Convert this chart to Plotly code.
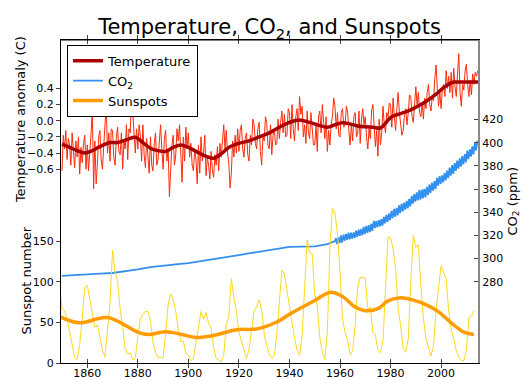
import plotly.graph_objects as go

# ---------------- data ----------------
# Temperature anomaly (C), raw series, two readings per year starting 1850
TEMP_START = 1850
TEMP_RAW = [
    -0.62, -0.18, -0.35, -0.12, -0.48, -0.22, -0.30, -0.55, -0.15, -0.42,
    -0.58, -0.25, -0.45, -0.20, -0.66, -0.33, -0.52, -0.28, -0.18, -0.60,
    -0.30, -0.62, -0.42, -0.16, 0.14, -0.84, -0.25, -0.78, -0.55, -0.20,
    -0.12, -0.48, -0.60, -0.22, -0.05, 0.18, -0.40, -0.15, -0.50, -0.10,
    -0.12, -0.45, -0.55, -0.20, -0.08, -0.38, -0.42, -0.15, -0.60, -0.25,
    -0.35, -0.05, -0.48, -0.10, -0.15, 0.35, 0.05, -0.25, -0.40, -0.10,
    -0.35, -0.05, -0.20, -0.50, -0.05, -0.42, -0.58, -0.22, -0.45, -0.65,
    -0.20, -0.55, -0.62, -0.28, -0.15, -0.55, -0.48, -0.25, -0.05, -0.35,
    -0.60, -0.22, -0.12, -0.50, -0.35, -0.94, -0.62, -0.30, -0.18, -0.55,
    -0.42, -0.10, -0.25, -0.05, -0.40, -0.76, -0.20, -0.50, -0.08, -0.35,
    -0.15, -0.45, -0.28, -0.55, -0.62, -0.35, -0.48, -0.78, -0.30, -0.65,
    -0.20, -0.50, -0.40, -0.18, -0.68, -0.45, -0.55, -0.72, -0.38, -0.62,
    -0.70, -0.42, -0.55, -0.32, -0.62, -0.28, -0.45, -0.20, -0.05, -0.35,
    -0.12, -0.40, -0.52, -0.83, -0.65, -0.25, -0.45, -0.18, -0.40, -0.10,
    -0.38, -0.12, -0.05, -0.35, -0.45, -0.22, -0.15, -0.42, -0.50, -0.18,
    -0.30, 0.02, -0.05, -0.28, -0.35, -0.10, -0.02, -0.38, -0.55, -0.20,
    -0.25, 0.05, -0.02, -0.30, -0.35, -0.05, -0.42, -0.18, -0.10, -0.30,
    -0.28, 0.02, -0.22, -0.02, 0.12, -0.15, 0.08, -0.20, -0.18, 0.15,
    0.10, -0.22, 0.20, -0.10, -0.25, 0.05, 0.15, -0.12, 0.30, 0.08,
    0.18, -0.20, -0.05, -0.28, 0.12, -0.15, -0.22, 0.10, -0.10, -0.30,
    -0.30, -0.05, -0.38, 0.05, 0.12, -0.15, 0.20, 0.02, -0.22, 0.05,
    -0.38, -0.12, -0.30, -0.05, 0.05, 0.28, 0.18, -0.10, 0.10, -0.18,
    -0.20, 0.10, 0.15, -0.08, -0.05, 0.18, 0.12, -0.12, -0.30, -0.05,
    -0.25, 0.05, 0.10, -0.20, -0.15, 0.12, -0.28, 0.02, 0.15, -0.05,
    0.05, -0.20, -0.35, -0.10, -0.22, 0.12, 0.20, -0.05, -0.32, -0.12,
    -0.44, 0.02, -0.30, -0.15, 0.18, -0.05, -0.15, 0.10, 0.05, 0.22,
    0.20, -0.08, 0.28, 0.05, -0.12, 0.15, 0.35, 0.10, -0.05, -0.18,
    -0.12, 0.08, 0.15, -0.05, 0.10, 0.32, 0.30, 0.05, -0.02, 0.25,
    0.42, 0.20, 0.35, 0.10, 0.05, 0.22, 0.02, 0.28, 0.15, 0.35,
    0.45, 0.20, 0.12, 0.30, 0.25, 0.52, 0.69, 0.40, 0.18, 0.35,
    0.15, 0.40, 0.45, 0.30, 0.62, 0.40, 0.55, 0.35, 0.60, 0.28,
    0.65, 0.42, 0.30, 0.58, 0.83, 0.35, 0.18, 0.45, 0.38, 0.62,
    0.70, 0.45, 0.30, 0.50, 0.32, 0.58, 0.45, 0.60, 0.55, 0.62,
]

# Smoothed temperature
TEMP_SMOOTH_YEARS = [1850, 1853, 1856, 1859, 1862, 1865, 1869, 1872, 1876, 1879,
                     1882, 1885, 1888, 1891, 1894, 1897, 1900, 1904, 1907, 1910,
                     1913, 1916, 1920, 1924, 1928, 1932, 1936, 1940, 1944, 1948,
                     1952, 1955, 1958, 1961, 1964, 1967, 1970, 1973, 1976, 1978,
                     1980, 1983, 1986, 1989, 1992, 1995, 1998, 2001, 2004, 2006,
                     2010, 2015]
TEMP_SMOOTH = [-0.29, -0.33, -0.37, -0.40, -0.37, -0.32, -0.27, -0.27, -0.23, -0.205,
               -0.27, -0.34, -0.37, -0.38, -0.33, -0.30, -0.33, -0.395, -0.44, -0.465,
               -0.41, -0.33, -0.28, -0.25, -0.20, -0.15, -0.08, -0.02, 0.01, -0.02,
               -0.06, -0.08, -0.05, -0.025, -0.04, -0.065, -0.075, -0.08, -0.09, -0.03,
               0.04, 0.08, 0.11, 0.15, 0.20, 0.26, 0.33, 0.41, 0.47, 0.48,
               0.48, 0.48]

# CO2 (ppm): ice-core era, then Mauna Loa seasonal peaks (May) and troughs (Oct)
CO2_HIST_YEARS = [1850, 1855, 1860, 1865, 1870, 1875, 1880, 1885, 1890, 1895,
                  1900, 1905, 1910, 1915, 1920, 1925, 1930, 1935, 1940, 1945,
                  1950, 1955, 1958]
CO2_HIST = [285.0, 285.8, 286.5, 287.0, 287.5, 288.8, 290.6, 292.5, 294.0, 295.0,
            296.0, 297.6, 299.4, 301.2, 303.0, 304.8, 306.6, 308.8, 310.0, 310.2,
            310.5, 312.5, 315.0]
CO2_MLO_START = 1958
CO2_MLO = [
    317.5, 312.4, 318.3, 313.3, 320.0, 313.8, 320.6, 315.4, 321.3, 316.1,
    322.3, 316.5, 322.3, 317.2, 322.6, 317.7, 324.1, 318.8, 324.9, 319.6,
    325.6, 320.0, 327.4, 321.1, 328.1, 322.2, 328.8, 322.8, 330.0, 323.9,
    332.5, 326.4, 332.5, 326.9, 333.2, 327.8, 334.1, 328.5, 335.9, 330.4,
    337.6, 331.7, 338.8, 333.1, 341.1, 334.9, 342.8, 336.1, 343.7, 337.2,
    345.9, 339.2, 347.3, 340.8, 348.3, 342.3, 349.8, 343.4, 351.6, 345.0,
    354.0, 347.5, 355.7, 349.1, 357.1, 350.3, 359.0, 350.9, 359.6, 352.0,
    360.2, 352.9, 361.8, 354.7, 363.8, 356.6, 365.4, 358.6, 366.8, 359.9,
    369.6, 362.9, 371.2, 364.5, 371.8, 365.7, 373.8, 367.6, 375.9, 369.4,
    378.6, 371.6, 380.6, 373.1, 382.4, 375.7, 384.6, 377.7, 386.4, 379.3,
    388.5, 381.4, 390.2, 383.0, 393.2, 385.9, 394.2, 387.9, 396.8, 389.9,
    399.8, 393.3, 401.8,
]

# Yearly mean sunspot number, 1849-2013
SUN_START = 1849
SUNSPOTS = [
    95.8,
    66.6, 64.5, 54.1, 39.0, 20.6, 6.7, 4.3, 22.7, 54.8, 93.8,
    95.8, 77.2, 59.1, 44.0, 47.0, 30.5, 16.3, 7.3, 37.6, 74.0,
    139.0, 111.2, 101.6, 66.2, 44.7, 17.0, 11.3, 12.4, 3.4, 6.0,
    32.3, 54.3, 59.7, 63.7, 63.5, 52.2, 25.4, 13.1, 6.8, 6.3,
    7.1, 35.6, 73.0, 85.1, 78.0, 64.0, 41.8, 26.2, 26.7, 12.1,
    9.5, 2.7, 5.0, 24.4, 42.0, 63.5, 53.8, 62.0, 48.5, 43.9,
    18.6, 5.7, 3.6, 1.4, 9.6, 47.4, 57.1, 103.9, 80.6, 63.6,
    37.6, 26.1, 14.2, 5.8, 16.7, 44.3, 63.9, 69.0, 77.8, 64.9,
    35.7, 21.2, 11.1, 5.7, 8.7, 36.1, 79.7, 114.4, 109.6, 88.8,
    67.8, 47.5, 30.6, 16.3, 9.6, 33.2, 92.6, 151.6, 136.3, 134.7,
    83.9, 69.4, 31.5, 13.9, 4.4, 38.0, 141.7, 190.2, 184.8, 159.0,
    112.3, 53.9, 37.6, 27.9, 10.2, 15.1, 47.0, 93.8, 105.9, 105.5,
    104.5, 66.6, 68.9, 38.0, 34.5, 15.5, 12.6, 27.5, 92.5, 155.4,
    154.6, 140.4, 115.9, 66.6, 45.9, 17.9, 13.4, 29.4, 100.2, 157.6,
    142.6, 145.7, 94.3, 54.6, 29.9, 17.5, 8.6, 21.5, 64.3, 93.3,
    119.6, 111.0, 104.0, 63.7, 40.4, 29.8, 15.2, 7.5, 2.9, 3.1,
    16.5, 55.7, 57.6, 64.7,
]
SUN_SMOOTH_YEARS = [1849.5, 1857, 1868, 1880, 1884, 1891, 1897, 1903, 1910, 1919,
                    1927, 1935, 1940, 1950, 1956, 1961, 1966, 1970, 1975, 1979,
                    1984, 1989, 1994, 1999, 2004, 2009, 2013]
SUN_SMOOTH = [56.5, 49.5, 56.0, 38.0, 35.0, 38.5, 35.5, 31.5, 34.0, 41.0,
              42.0, 50.5, 60.0, 77.0, 87.0, 82.0, 69.0, 64.5, 67.0, 76.5,
              80.5, 77.5, 72.0, 63.0, 49.5, 38.0, 35.0]

X_TICKS = [1860, 1880, 1900, 1920, 1940, 1960, 1980, 2000]
TEMP_TICKS = [-0.6, -0.4, -0.2, 0.0, 0.2, 0.4]
TEMP_TICK_TEXT = ["\u22120.6", "\u22120.4", "\u22120.2", "0.0", "0.2", "0.4"]
SUN_TICKS = [0, 50, 100, 150]
CO2_TICKS = [280, 300, 320, 340, 360, 380, 400, 420]

# ---------------- derived x positions ----------------
temp_x = [TEMP_START + i * 0.5 for i in range(len(TEMP_RAW))]
mlo_x = [CO2_MLO_START + i // 2 + (0.38 if i % 2 == 0 else 0.80) for i in range(len(CO2_MLO))]
co2_x = CO2_HIST_YEARS + mlo_x
co2_y = CO2_HIST + CO2_MLO
sun_x = [SUN_START + i for i in range(len(SUNSPOTS))]

FONT = "DejaVu Sans"

fig = go.Figure()
fig.add_trace(go.Scatter(x=temp_x, y=TEMP_RAW, mode="lines", yaxis="y",
                         line=dict(color="#ff2a0a", width=1), showlegend=False,
                         hoverinfo="skip"))
fig.add_trace(go.Scatter(x=TEMP_SMOOTH_YEARS, y=TEMP_SMOOTH, mode="lines", yaxis="y",
                         name="Temperature",
                         line=dict(color="#aa0000", width=3.5, shape="spline")))
fig.add_trace(go.Scatter(x=co2_x, y=co2_y, mode="lines", yaxis="y2",
                         name="CO<sub>2</sub>",
                         line=dict(color="#3390ee", width=1.8)))
fig.add_trace(go.Scatter(x=sun_x, y=SUNSPOTS, mode="lines", yaxis="y3",
                         line=dict(color="#ffd91a", width=1), showlegend=False,
                         hoverinfo="skip"))
fig.add_trace(go.Scatter(x=SUN_SMOOTH_YEARS, y=SUN_SMOOTH, mode="lines", yaxis="y3",
                         name="Sunspots",
                         line=dict(color="#ff9c00", width=3.5, shape="spline")))

fig.update_layout(
    width=525, height=380,
    margin=dict(l=61, r=47, t=40, b=17, autoexpand=False),
    paper_bgcolor="white", plot_bgcolor="white",
    font=dict(family=FONT, size=11, color="black"),
    title=dict(text="Temperature, CO<sub>2</sub>, and Sunspots",
               font=dict(size=21, family=FONT, color="black"),
               x=0.5, xref="paper", xanchor="center",
               y=1 - 27 / 380, yref="container", yanchor="middle"),
    xaxis=dict(range=[1849.6, 2014.6], tickvals=X_TICKS, ticks="inside", ticklen=4,
               mirror="allticks", showline=True, linecolor="black", linewidth=1,
               showgrid=False, zeroline=False, tickfont=dict(size=11),
               automargin=False),
    yaxis=dict(range=[-3, 1], tickvals=TEMP_TICKS, ticktext=TEMP_TICK_TEXT,
               ticks="outside", ticklen=4, showline=True, linecolor="black",
               linewidth=1, showgrid=False, zeroline=False, tickfont=dict(size=11),
               automargin=False),
    yaxis2=dict(overlaying="y", side="right", range=[209.8, 488.7], tickvals=CO2_TICKS,
                ticks="inside", ticklen=4, showline=True, linecolor="#888888",
                linewidth=2, showgrid=False, zeroline=False, tickfont=dict(size=11),
                automargin=False),
    yaxis3=dict(overlaying="y", side="left", range=[0, 398], tickvals=SUN_TICKS,
                ticks="outside", ticklen=4, showline=False, showgrid=False,
                zeroline=False, tickfont=dict(size=11), automargin=False),
    legend=dict(x=0.0144, y=0.985, xanchor="left", yanchor="top",
                bgcolor="white", bordercolor="black", borderwidth=1,
                font=dict(size=13, family=FONT), tracegroupgap=0),
    showlegend=True,
    shapes=[dict(type="line", xref="paper", yref="paper", x0=0, x1=1, y0=1, y1=1,
                 line=dict(color="black", width=1), layer="above")],
    annotations=[
        dict(text="Temperature anomaly (C)", textangle=-90, xref="paper", yref="paper",
             x=-0.0983, y=0.752, xanchor="center", yanchor="middle", showarrow=False,
             font=dict(size=13, family=FONT)),
        dict(text="Sunspot number", textangle=-90, xref="paper", yref="paper",
             x=-0.0827, y=0.254, xanchor="center", yanchor="middle", showarrow=False,
             font=dict(size=13, family=FONT)),
        dict(text="CO<sub>2</sub> (ppm)", textangle=-90, xref="paper", yref="paper",
             x=1.084, y=0.5, xanchor="center", yanchor="middle", showarrow=False,
             font=dict(size=13, family=FONT)),
    ],
)

fig.write_html("out.html", config={"displayModeBar": False},
               post_script="document.body.style.margin='0';document.body.style.overflow='hidden';")
